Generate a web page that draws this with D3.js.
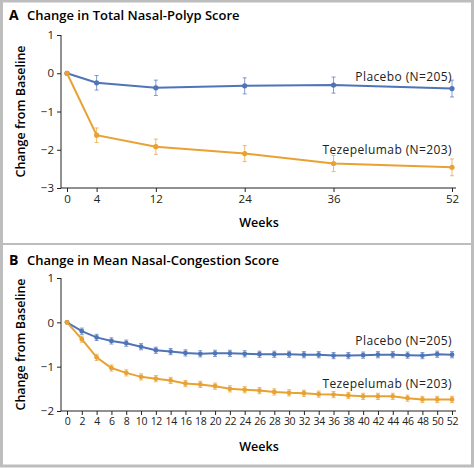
<!DOCTYPE html><html><head><meta charset="utf-8">
<script src="https://cdn.jsdelivr.net/npm/d3@7"></script>
<style>body{margin:0;background:#fff}svg{font-family:"Open Sans",sans-serif}</style></head><body>
<svg id="c" width="474" height="468"></svg>
<script>
const weeksA=[0,4,12,24,36,52];
const placeboA=[0,-0.25,-0.38,-0.33,-0.31,-0.40];
const tezA=[0,-1.62,-1.92,-2.10,-2.36,-2.46];
const errA=[0.06,0.19,0.20,0.21,0.21,0.22];
const weeksB=d3.range(0,53,2);
const placeboB=[0,-0.2,-0.34,-0.42,-0.47,-0.55,-0.63,-0.66,-0.69,-0.71,-0.70,-0.70,-0.71,-0.72,-0.72,-0.72,-0.73,-0.73,-0.75,-0.75,-0.74,-0.73,-0.73,-0.74,-0.75,-0.72,-0.73];
const tezB=[0,-0.38,-0.79,-1.03,-1.14,-1.23,-1.27,-1.31,-1.38,-1.40,-1.44,-1.50,-1.52,-1.54,-1.57,-1.59,-1.60,-1.62,-1.63,-1.65,-1.67,-1.67,-1.67,-1.71,-1.74,-1.74,-1.74];
const errB=0.07;
const BLUE="#4f74b8",ORANGE="#e9a132",GRAY="#bdbdbd";
const svg=d3.select("#c");
svg.append("rect").attr("x",1.5).attr("y",1).attr("width",471).attr("height",465).attr("fill","none").attr("stroke",GRAY).attr("stroke-width",3);
svg.append("line").attr("x1",0).attr("x2",474).attr("y1",244).attr("y2",244).attr("stroke",GRAY).attr("stroke-width",2);

function panel(o){
  const g=svg.append("g");
  g.append("text").attr("x",9).attr("y",o.titleY).attr("font-size",14).attr("font-weight",700).text(o.letter);
  g.append("text").attr("x",27).attr("y",o.titleY).attr("font-size",13).attr("font-weight",600).text(o.title);
  const x=d3.scaleLinear().domain([0,52]).range([67,452]);
  const y=d3.scaleLinear().domain(o.ydom).range([o.y0,o.y1]);
  const ya=g.append("g").attr("transform","translate(61,0)").call(d3.axisLeft(y).tickValues(d3.range(o.ydom[0],o.ydom[1]+1)).tickSize(4).tickFormat(d=>d<0?"\u2212"+(-d):d));
  ya.select(".domain").attr("d",`M0,${o.y1}V${o.y0}`);
  const xa=g.append("g").attr("transform",`translate(0,${o.y0})`).call(d3.axisBottom(x).tickValues(o.xticks).tickSize(4));
  xa.select(".domain").attr("d","M61,0H456");
  ya.selectAll("text").attr("font-size",11.5);
  xa.selectAll("text").attr("font-size",o.xfs).attr("letter-spacing",o.xls);
  [ya,xa].forEach(a=>{a.selectAll("text").attr("fill","#222").attr("font-family","'Open Sans',sans-serif");a.selectAll("line,path").attr("stroke","#222")});
  g.append("text").attr("transform",`translate(25,${(o.y0+o.y1)/2}) rotate(-90)`).attr("text-anchor","middle").attr("font-size",12.5).attr("font-weight",600).text("Change from Baseline");
  g.append("text").attr("x",259).attr("y",o.weeksY).attr("text-anchor","middle").attr("font-size",12.5).attr("font-weight",600).text("Weeks");
  o.series.forEach(s=>{
    const pts=o.weeks.map((w,i)=>({w,v:s.vals[i],e:Array.isArray(o.err)?o.err[i]:o.err}));
    g.append("path").attr("d",d3.line().x(d=>x(d.w)).y(d=>y(d.v))(pts)).attr("fill","none").attr("stroke",s.c).attr("stroke-width",2);
    pts.forEach(d=>{
      if(d.w>0){
      g.append("line").attr("x1",x(d.w)).attr("x2",x(d.w)).attr("y1",y(d.v-d.e)).attr("y2",y(d.v+d.e)).attr("stroke",s.c).attr("stroke-width",1).attr("opacity",0.7);
      [d.v-d.e,d.v+d.e].forEach(v=>g.append("line").attr("x1",x(d.w)-2).attr("x2",x(d.w)+2).attr("y1",y(v)).attr("y2",y(v)).attr("stroke",s.c).attr("opacity",0.7));}
      g.append("circle").attr("cx",x(d.w)).attr("cy",y(d.v)).attr("r",o.r).attr("fill",s.c);
    });
    g.append("text").attr("x",452).attr("y",s.ly).attr("text-anchor","end").attr("font-size",12).attr("letter-spacing",0.4).attr("fill","#222").text(s.label);
  });
}
panel({letter:"A",title:"Change in Total Nasal-Polyp Score",titleY:20,ydom:[-3,1],y0:188,y1:35,xticks:weeksA,weeks:weeksA,err:errA,weeksY:227,r:2.6,xfs:11.5,xls:0,
  series:[{vals:placeboA,c:BLUE,label:"Placebo (N=205)",ly:81},{vals:tezA,c:ORANGE,label:"Tezepelumab (N=203)",ly:154}]});
panel({letter:"B",title:"Change in Mean Nasal-Congestion Score",titleY:265,ydom:[-2,1],y0:411,y1:278,xticks:weeksB,weeks:weeksB,err:errB,weeksY:451,r:2.4,xfs:10.5,xls:-0.3,
  series:[{vals:placeboB,c:BLUE,label:"Placebo (N=205)",ly:345},{vals:tezB,c:ORANGE,label:"Tezepelumab (N=203)",ly:388}]});
</script></body></html>
